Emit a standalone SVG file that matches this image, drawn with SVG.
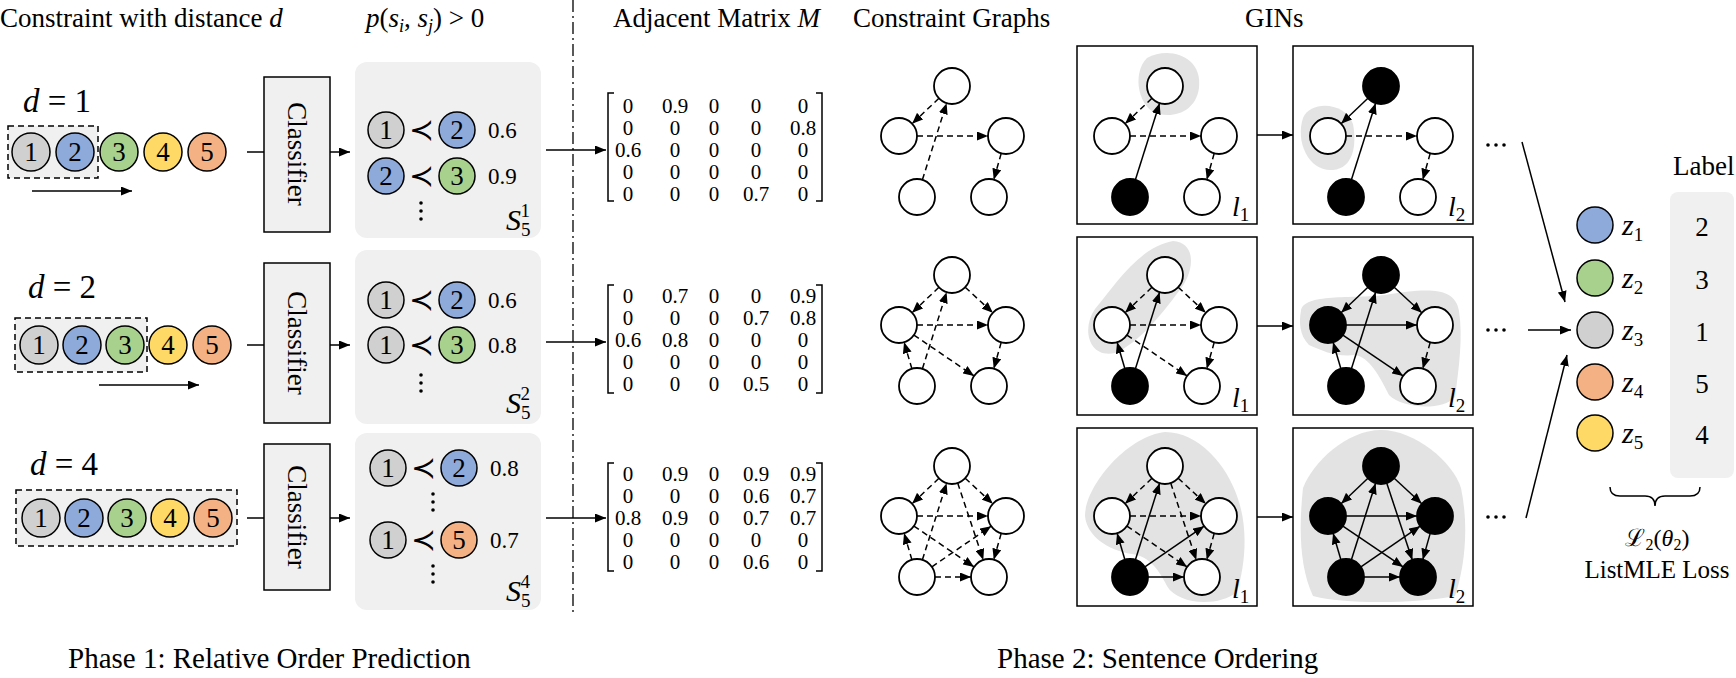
<svg xmlns="http://www.w3.org/2000/svg" width="1736" height="678" viewBox="0 0 1736 678">
<defs>
<marker id="ah" markerUnits="userSpaceOnUse" markerWidth="11" markerHeight="9" refX="11" refY="4.5" orient="auto"><path d="M0,0 L11,4.5 L0,9 z" fill="#000"/></marker>
<style>
text{font-family:"Liberation Serif","DejaVu Serif",serif;fill:#000}
.t{font-size:27px}
.it{font-style:italic}
.n{font-size:27px;text-anchor:middle}
.m{font-size:21px;text-anchor:middle}
.p{font-size:23px}
.sb{fill:#f0f0f0;stroke:none}
.dbox{fill:#f0f0f0;stroke:#000;stroke-width:1.5;stroke-dasharray:6 4}
.cls{fill:#f0f0f0;stroke:#000;stroke-width:1.5}
.c{stroke:#000;stroke-width:1.5}
.g1{fill:#d0d0d0}.g2{fill:#8eaadb}.g3{fill:#a9d18e}.g4{fill:#ffd966}.g5{fill:#f4b183}
.ln{stroke:#000;stroke-width:1.5;fill:none}
.ar{stroke:#000;stroke-width:1.5;fill:none;marker-end:url(#ah)}
.da{stroke:#000;stroke-width:1.5;fill:none;stroke-dasharray:6 4;marker-end:url(#ah)}
.w{fill:#fff;stroke:#000;stroke-width:1.8}
.b{fill:#000;stroke:#000;stroke-width:1.8}
.box{fill:#fff;stroke:#000;stroke-width:1.5}
.blob{fill:#e3e3e3}
.dot{fill:#000}
.pr{font-size:30px;text-anchor:middle;font-family:"DejaVu Serif",serif}
</style>
</defs>

<g id="headings">
<text class="t" x="0" y="27">Constraint with distance <tspan class="it">d</tspan></text>
<text class="t" x="366" y="27"><tspan class="it">p</tspan>(<tspan class="it">s</tspan><tspan class="it" font-size="18" dy="5">i</tspan><tspan dy="-5">, </tspan><tspan class="it">s</tspan><tspan class="it" font-size="18" dy="5">j</tspan><tspan dy="-5">) &gt; 0</tspan></text>
<text class="t" x="613" y="27">Adjacent Matrix <tspan class="it">M</tspan></text>
<text class="t" x="853" y="27">Constraint Graphs</text>
<text class="t" x="1245" y="27">GINs</text>
<text class="t" x="1673" y="175">Label</text>
<text x="68" y="668" font-size="29">Phase 1: Relative Order Prediction</text>
<text x="997" y="668" font-size="29">Phase 2: Sentence Ordering</text>
</g>

<line x1="573" y1="0" x2="573" y2="612" stroke="#000" stroke-width="1.3" stroke-dasharray="12 4 2 4"/>

<g id="input1">
<text x="23" y="112" font-size="33"><tspan class="it">d</tspan> = 1</text>
<rect class="dbox" x="8" y="126" width="90" height="52"/>
<circle class="c g1" cx="31" cy="152" r="19"/><text class="n" x="31" y="161">1</text>
<circle class="c g2" cx="75" cy="152" r="19"/><text class="n" x="75" y="161">2</text>
<circle class="c g3" cx="119" cy="152" r="19"/><text class="n" x="119" y="161">3</text>
<circle class="c g4" cx="163" cy="152" r="19"/><text class="n" x="163" y="161">4</text>
<circle class="c g5" cx="207" cy="152" r="19"/><text class="n" x="207" y="161">5</text>
</g>
<g id="input2">
<text x="28" y="298" font-size="33"><tspan class="it">d</tspan> = 2</text>
<rect class="dbox" x="15" y="318" width="132" height="54"/>
<circle class="c g1" cx="39" cy="345" r="19"/><text class="n" x="39" y="354">1</text>
<circle class="c g2" cx="82" cy="345" r="19"/><text class="n" x="82" y="354">2</text>
<circle class="c g3" cx="125" cy="345" r="19"/><text class="n" x="125" y="354">3</text>
<circle class="c g4" cx="168" cy="345" r="19"/><text class="n" x="168" y="354">4</text>
<circle class="c g5" cx="212" cy="345" r="19"/><text class="n" x="212" y="354">5</text>
</g>
<g id="input3">
<text x="30" y="475" font-size="33"><tspan class="it">d</tspan> = 4</text>
<rect class="dbox" x="16" y="490" width="221" height="56"/>
<circle class="c g1" cx="41" cy="518" r="19"/><text class="n" x="41" y="527">1</text>
<circle class="c g2" cx="84" cy="518" r="19"/><text class="n" x="84" y="527">2</text>
<circle class="c g3" cx="127" cy="518" r="19"/><text class="n" x="127" y="527">3</text>
<circle class="c g4" cx="170" cy="518" r="19"/><text class="n" x="170" y="527">4</text>
<circle class="c g5" cx="213" cy="518" r="19"/><text class="n" x="213" y="527">5</text>
</g>

<g id="classifier1"><rect class="cls" x="264" y="77" width="66" height="155"/><text font-size="27" text-anchor="middle" transform="translate(297,154) rotate(90)" y="9">Classifier</text></g>
<g id="classifier2"><rect class="cls" x="264" y="263" width="66" height="160"/><text font-size="27" text-anchor="middle" transform="translate(297,343) rotate(90)" y="9">Classifier</text></g>
<g id="classifier3"><rect class="cls" x="264" y="444" width="66" height="146"/><text font-size="27" text-anchor="middle" transform="translate(297,517) rotate(90)" y="9">Classifier</text></g>

<g id="scores1">
<rect class="sb" x="355" y="62" width="186" height="176" rx="12"/>
<circle class="c g1" cx="386" cy="130" r="18"/><text class="n" x="386" y="139">1</text>
<text class="pr" x="421" y="140">≺</text>
<circle class="c g2" cx="457" cy="130" r="18"/><text class="n" x="457" y="139">2</text>
<text class="p" x="488" y="138">0.6</text>
<circle class="c g2" cx="386" cy="176" r="18"/><text class="n" x="386" y="185">2</text>
<text class="pr" x="421" y="186">≺</text>
<circle class="c g3" cx="457" cy="176" r="18"/><text class="n" x="457" y="185">3</text>
<text class="p" x="488" y="184">0.9</text>
<circle class="dot" cx="421" cy="203" r="1.8"/><circle class="dot" cx="421" cy="211" r="1.8"/><circle class="dot" cx="421" cy="219" r="1.8"/>
<text x="506" y="230" font-size="30" class="it">S<tspan font-size="19" font-style="normal" dy="6">5</tspan><tspan font-size="19" font-style="normal" dx="-10" dy="-19">1</tspan></text>
</g>
<g id="scores2">
<rect class="sb" x="355" y="250" width="186" height="174" rx="12"/>
<circle class="c g1" cx="386" cy="300" r="18"/><text class="n" x="386" y="309">1</text>
<text class="pr" x="421" y="310">≺</text>
<circle class="c g2" cx="457" cy="300" r="18"/><text class="n" x="457" y="309">2</text>
<text class="p" x="488" y="308">0.6</text>
<circle class="c g1" cx="386" cy="345" r="18"/><text class="n" x="386" y="354">1</text>
<text class="pr" x="421" y="355">≺</text>
<circle class="c g3" cx="457" cy="345" r="18"/><text class="n" x="457" y="354">3</text>
<text class="p" x="488" y="353">0.8</text>
<circle class="dot" cx="421" cy="375" r="1.8"/><circle class="dot" cx="421" cy="383" r="1.8"/><circle class="dot" cx="421" cy="391" r="1.8"/>
<text x="506" y="413" font-size="30" class="it">S<tspan font-size="19" font-style="normal" dy="6">5</tspan><tspan font-size="19" font-style="normal" dx="-10" dy="-19">2</tspan></text>
</g>
<g id="scores3">
<rect class="sb" x="355" y="433" width="186" height="177" rx="12"/>
<circle class="c g1" cx="388" cy="468" r="18"/><text class="n" x="388" y="477">1</text>
<text class="pr" x="423" y="478">≺</text>
<circle class="c g2" cx="459" cy="468" r="18"/><text class="n" x="459" y="477">2</text>
<text class="p" x="490" y="476">0.8</text>
<circle class="dot" cx="433" cy="494" r="1.8"/><circle class="dot" cx="433" cy="502" r="1.8"/><circle class="dot" cx="433" cy="510" r="1.8"/>
<circle class="c g1" cx="388" cy="540" r="18"/><text class="n" x="388" y="549">1</text>
<text class="pr" x="423" y="550">≺</text>
<circle class="c g5" cx="459" cy="540" r="18"/><text class="n" x="459" y="549">5</text>
<text class="p" x="490" y="548">0.7</text>
<circle class="dot" cx="433" cy="566" r="1.8"/><circle class="dot" cx="433" cy="574" r="1.8"/><circle class="dot" cx="433" cy="582" r="1.8"/>
<text x="506" y="601" font-size="30" class="it">S<tspan font-size="19" font-style="normal" dy="6">5</tspan><tspan font-size="19" font-style="normal" dx="-10" dy="-19">4</tspan></text>
</g>

<g id="matrix1">
<path class="ln" d="M614,93 L608,93 L608,201 L614,201 M816,93 L822,93 L822,201 L816,201"/>
<text class="m" x="628" y="113">0</text><text class="m" x="675" y="113">0.9</text><text class="m" x="714" y="113">0</text><text class="m" x="756" y="113">0</text><text class="m" x="803" y="113">0</text>
<text class="m" x="628" y="135">0</text><text class="m" x="675" y="135">0</text><text class="m" x="714" y="135">0</text><text class="m" x="756" y="135">0</text><text class="m" x="803" y="135">0.8</text>
<text class="m" x="628" y="157">0.6</text><text class="m" x="675" y="157">0</text><text class="m" x="714" y="157">0</text><text class="m" x="756" y="157">0</text><text class="m" x="803" y="157">0</text>
<text class="m" x="628" y="179">0</text><text class="m" x="675" y="179">0</text><text class="m" x="714" y="179">0</text><text class="m" x="756" y="179">0</text><text class="m" x="803" y="179">0</text>
<text class="m" x="628" y="201">0</text><text class="m" x="675" y="201">0</text><text class="m" x="714" y="201">0</text><text class="m" x="756" y="201">0.7</text><text class="m" x="803" y="201">0</text>
</g>
<g id="matrix2">
<path class="ln" d="M614,285 L608,285 L608,393 L614,393 M816,285 L822,285 L822,393 L816,393"/>
<text class="m" x="628" y="303">0</text><text class="m" x="675" y="303">0.7</text><text class="m" x="714" y="303">0</text><text class="m" x="756" y="303">0</text><text class="m" x="803" y="303">0.9</text>
<text class="m" x="628" y="325">0</text><text class="m" x="675" y="325">0</text><text class="m" x="714" y="325">0</text><text class="m" x="756" y="325">0.7</text><text class="m" x="803" y="325">0.8</text>
<text class="m" x="628" y="347">0.6</text><text class="m" x="675" y="347">0.8</text><text class="m" x="714" y="347">0</text><text class="m" x="756" y="347">0</text><text class="m" x="803" y="347">0</text>
<text class="m" x="628" y="369">0</text><text class="m" x="675" y="369">0</text><text class="m" x="714" y="369">0</text><text class="m" x="756" y="369">0</text><text class="m" x="803" y="369">0</text>
<text class="m" x="628" y="391">0</text><text class="m" x="675" y="391">0</text><text class="m" x="714" y="391">0</text><text class="m" x="756" y="391">0.5</text><text class="m" x="803" y="391">0</text>
</g>
<g id="matrix3">
<path class="ln" d="M614,463 L608,463 L608,571 L614,571 M816,463 L822,463 L822,571 L816,571"/>
<text class="m" x="628" y="481">0</text><text class="m" x="675" y="481">0.9</text><text class="m" x="714" y="481">0</text><text class="m" x="756" y="481">0.9</text><text class="m" x="803" y="481">0.9</text>
<text class="m" x="628" y="503">0</text><text class="m" x="675" y="503">0</text><text class="m" x="714" y="503">0</text><text class="m" x="756" y="503">0.6</text><text class="m" x="803" y="503">0.7</text>
<text class="m" x="628" y="525">0.8</text><text class="m" x="675" y="525">0.9</text><text class="m" x="714" y="525">0</text><text class="m" x="756" y="525">0.7</text><text class="m" x="803" y="525">0.7</text>
<text class="m" x="628" y="547">0</text><text class="m" x="675" y="547">0</text><text class="m" x="714" y="547">0</text><text class="m" x="756" y="547">0</text><text class="m" x="803" y="547">0</text>
<text class="m" x="628" y="569">0</text><text class="m" x="675" y="569">0</text><text class="m" x="714" y="569">0</text><text class="m" x="756" y="569">0.6</text><text class="m" x="803" y="569">0</text>
</g>

<g id="cgraph1" transform="translate(864,46)">
<path class="da" d="M74.9,52.3 L48.1,77.7"/><path class="da" d="M58.4,133.8 L82.6,57.2"/><path class="da" d="M53,90 L124,90"/><path class="da" d="M137.2,107.4 L129.8,133.6"/>
<circle class="w" cx="88" cy="40" r="18"/><circle class="w" cx="35" cy="90" r="18"/><circle class="w" cx="142" cy="90" r="18"/><circle class="w" cx="53" cy="151" r="18"/><circle class="w" cx="125" cy="151" r="18"/>
</g>
<g id="cgraph2" transform="translate(864,235)">
<path class="da" d="M74.9,52.3 L48.1,77.7"/><path class="da" d="M101.2,52.2 L128.8,77.8"/><path class="da" d="M53,90 L124,90"/><path class="da" d="M49.9,100.1 L110.1,140.9"/><path class="da" d="M47.9,133.7 L40.1,107.3"/><path class="da" d="M58.4,133.8 L82.6,57.2"/><path class="da" d="M137.2,107.4 L129.8,133.6"/>
<circle class="w" cx="88" cy="40" r="18"/><circle class="w" cx="35" cy="90" r="18"/><circle class="w" cx="142" cy="90" r="18"/><circle class="w" cx="53" cy="151" r="18"/><circle class="w" cx="125" cy="151" r="18"/>
</g>
<g id="cgraph3" transform="translate(864,426)">
<path class="da" d="M74.9,52.3 L48.1,77.7"/><path class="da" d="M101.2,52.2 L128.8,77.8"/><path class="da" d="M93.7,57.1 L119.3,133.9"/><path class="da" d="M53,90 L124,90"/><path class="da" d="M49.9,100.1 L110.1,140.9"/><path class="da" d="M47.9,133.7 L40.1,107.3"/><path class="da" d="M58.4,133.8 L82.6,57.2"/><path class="da" d="M67.9,140.8 L127.1,100.2"/><path class="da" d="M71,151 L107,151"/><path class="da" d="M137.2,107.4 L129.8,133.6"/>
<circle class="w" cx="88" cy="40" r="18"/><circle class="w" cx="35" cy="90" r="18"/><circle class="w" cx="142" cy="90" r="18"/><circle class="w" cx="53" cy="151" r="18"/><circle class="w" cx="125" cy="151" r="18"/>
</g>

<g id="gin1_1">
<rect class="box" x="1077" y="46" width="180" height="178"/>
<g transform="translate(1077,46)">
<path class="blob" d="M70,12 C92,0 126,10 122,42 C119,64 100,72 82,68 C62,64 54,28 70,12 Z"/>
<path class="da" d="M74.9,52.3 L48.1,77.7"/><path class="ar" d="M58.4,133.8 L82.6,57.2"/><path class="da" d="M53,90 L124,90"/><path class="da" d="M137.2,107.4 L129.8,133.6"/>
<circle class="w" cx="88" cy="40" r="18"/><circle class="w" cx="35" cy="90" r="18"/><circle class="w" cx="142" cy="90" r="18"/><circle class="b" cx="53" cy="151" r="18"/><circle class="w" cx="125" cy="151" r="18"/>
<text x="155" y="170" font-size="28" class="it">l<tspan font-size="19" font-style="normal" dy="5">1</tspan></text>
</g></g>
<g id="gin2_1">
<rect class="box" x="1077" y="237" width="180" height="178"/>
<g transform="translate(1077,235)">
<path class="blob" d="M96,6 C122,8 116,40 102,56 C84,80 62,108 38,118 C12,124 4,94 18,74 C38,50 62,12 96,6 Z"/>
<path class="da" d="M74.9,52.3 L48.1,77.7"/><path class="da" d="M101.2,52.2 L128.8,77.8"/><path class="da" d="M53,90 L124,90"/><path class="da" d="M49.9,100.1 L110.1,140.9"/><path class="ar" d="M47.9,133.7 L40.1,107.3"/><path class="ar" d="M58.4,133.8 L82.6,57.2"/><path class="da" d="M137.2,107.4 L129.8,133.6"/>
<circle class="w" cx="88" cy="40" r="18"/><circle class="w" cx="35" cy="90" r="18"/><circle class="w" cx="142" cy="90" r="18"/><circle class="b" cx="53" cy="151" r="18"/><circle class="w" cx="125" cy="151" r="18"/>
<text x="155" y="172" font-size="28" class="it">l<tspan font-size="19" font-style="normal" dy="5">1</tspan></text>
</g></g>
<g id="gin3_1">
<rect class="box" x="1077" y="428" width="180" height="178"/>
<g transform="translate(1077,426)">
<path class="blob" d="M88,6 C122,6 150,40 160,70 C172,102 168,140 160,166 C140,182 100,178 90,160 C80,140 70,130 55,128 C30,124 10,110 8,90 C8,60 50,10 88,6 Z"/>
<path class="da" d="M74.9,52.3 L48.1,77.7"/><path class="da" d="M101.2,52.2 L128.8,77.8"/><path class="da" d="M93.7,57.1 L119.3,133.9"/><path class="da" d="M53,90 L124,90"/><path class="da" d="M49.9,100.1 L110.1,140.9"/><path class="ar" d="M47.9,133.7 L40.1,107.3"/><path class="ar" d="M58.4,133.8 L82.6,57.2"/><path class="ar" d="M67.9,140.8 L127.1,100.2"/><path class="ar" d="M71,151 L107,151"/><path class="da" d="M137.2,107.4 L129.8,133.6"/>
<circle class="w" cx="88" cy="40" r="18"/><circle class="w" cx="35" cy="90" r="18"/><circle class="w" cx="142" cy="90" r="18"/><circle class="b" cx="53" cy="151" r="18"/><circle class="w" cx="125" cy="151" r="18"/>
<text x="155" y="172" font-size="28" class="it">l<tspan font-size="19" font-style="normal" dy="5">1</tspan></text>
</g></g>

<g id="gin1_2">
<rect class="box" x="1293" y="46" width="180" height="178"/>
<g transform="translate(1293,46)">
<path class="blob" d="M10,72 C18,54 52,56 60,78 C64,100 60,122 40,124 C16,126 2,96 10,72 Z"/>
<path class="ar" d="M74.9,52.3 L48.1,77.7"/><path class="ar" d="M58.4,133.8 L82.6,57.2"/><path class="da" d="M53,90 L124,90"/><path class="da" d="M137.2,107.4 L129.8,133.6"/>
<circle class="b" cx="88" cy="40" r="18"/><circle class="w" cx="35" cy="90" r="18"/><circle class="w" cx="142" cy="90" r="18"/><circle class="b" cx="53" cy="151" r="18"/><circle class="w" cx="125" cy="151" r="18"/>
<text x="155" y="170" font-size="28" class="it">l<tspan font-size="19" font-style="normal" dy="5">2</tspan></text>
</g></g>
<g id="gin2_2">
<rect class="box" x="1293" y="237" width="180" height="178"/>
<g transform="translate(1293,235)">
<path class="blob" d="M8,76 C10,58 60,64 92,60 C130,54 162,50 166,76 C170,102 166,132 162,162 C150,176 110,174 96,160 C86,140 76,122 62,120 C42,122 30,116 16,110 C6,100 6,86 8,76 Z"/>
<path class="ar" d="M74.9,52.3 L48.1,77.7"/><path class="ar" d="M101.2,52.2 L128.8,77.8"/><path class="ar" d="M53,90 L124,90"/><path class="ar" d="M49.9,100.1 L110.1,140.9"/><path class="ar" d="M47.9,133.7 L40.1,107.3"/><path class="ar" d="M58.4,133.8 L82.6,57.2"/><path class="da" d="M137.2,107.4 L129.8,133.6"/>
<circle class="b" cx="88" cy="40" r="18"/><circle class="b" cx="35" cy="90" r="18"/><circle class="w" cx="142" cy="90" r="18"/><circle class="b" cx="53" cy="151" r="18"/><circle class="w" cx="125" cy="151" r="18"/>
<text x="155" y="172" font-size="28" class="it">l<tspan font-size="19" font-style="normal" dy="5">2</tspan></text>
</g></g>
<g id="gin3_2">
<rect class="box" x="1293" y="428" width="180" height="178"/>
<g transform="translate(1293,426)">
<path class="blob" d="M88,4 C122,4 160,36 168,62 C176,100 172,140 162,170 C120,178 50,178 20,170 C6,140 6,100 10,62 C20,36 54,4 88,4 Z"/>
<path class="ar" d="M74.9,52.3 L48.1,77.7"/><path class="ar" d="M101.2,52.2 L128.8,77.8"/><path class="ar" d="M93.7,57.1 L119.3,133.9"/><path class="ar" d="M53,90 L124,90"/><path class="ar" d="M49.9,100.1 L110.1,140.9"/><path class="ar" d="M47.9,133.7 L40.1,107.3"/><path class="ar" d="M58.4,133.8 L82.6,57.2"/><path class="ar" d="M67.9,140.8 L127.1,100.2"/><path class="ar" d="M71,151 L107,151"/><path class="ar" d="M137.2,107.4 L129.8,133.6"/>
<circle class="b" cx="88" cy="40" r="18"/><circle class="b" cx="35" cy="90" r="18"/><circle class="b" cx="142" cy="90" r="18"/><circle class="b" cx="53" cy="151" r="18"/><circle class="b" cx="125" cy="151" r="18"/>
<text x="155" y="172" font-size="28" class="it">l<tspan font-size="19" font-style="normal" dy="5">2</tspan></text>
</g></g>

<g id="outputs">
<rect class="sb" x="1670" y="192" width="64" height="286" rx="8"/>
<circle class="c g2" cx="1595" cy="225" r="18"/><text x="1622" y="235" font-size="30" class="it">z<tspan font-size="19" font-style="normal" dy="6">1</tspan></text><text class="n" x="1702" y="236" font-size="30">2</text>
<circle class="c g3" cx="1595" cy="278" r="18"/><text x="1622" y="288" font-size="30" class="it">z<tspan font-size="19" font-style="normal" dy="6">2</tspan></text><text class="n" x="1702" y="289" font-size="30">3</text>
<circle class="c g1" cx="1595" cy="330" r="18"/><text x="1622" y="340" font-size="30" class="it">z<tspan font-size="19" font-style="normal" dy="6">3</tspan></text><text class="n" x="1702" y="341" font-size="30">1</text>
<circle class="c g5" cx="1595" cy="382" r="18"/><text x="1622" y="392" font-size="30" class="it">z<tspan font-size="19" font-style="normal" dy="6">4</tspan></text><text class="n" x="1702" y="393" font-size="30">5</text>
<circle class="c g4" cx="1595" cy="433" r="18"/><text x="1622" y="443" font-size="30" class="it">z<tspan font-size="19" font-style="normal" dy="6">5</tspan></text><text class="n" x="1702" y="444" font-size="30">4</text>
<path class="ln" d="M1610,487 Q1610,496 1620,496 L1645,496 Q1655,496 1655,506 Q1655,496 1665,496 L1690,496 Q1700,496 1700,487"/>
<text x="1657" y="546" font-size="24" text-anchor="middle">ℒ<tspan font-size="16" dx="1" dy="4">2</tspan><tspan dy="-4">(</tspan><tspan class="it">θ</tspan><tspan font-size="16" dy="4">2</tspan><tspan dy="-4">)</tspan></text>
<text x="1657" y="578" font-size="25" text-anchor="middle">ListMLE Loss</text>
<g class="dot">
<circle cx="1488" cy="145" r="1.8"/><circle cx="1496" cy="145" r="1.8"/><circle cx="1504" cy="145" r="1.8"/>
<circle cx="1488" cy="330" r="1.8"/><circle cx="1496" cy="330" r="1.8"/><circle cx="1504" cy="330" r="1.8"/>
<circle cx="1488" cy="517" r="1.8"/><circle cx="1496" cy="517" r="1.8"/><circle cx="1504" cy="517" r="1.8"/>
</g>
</g>

<g id="connectors">
<path class="ar" d="M32,191 L132,191"/>
<path class="ar" d="M99,385 L199,385"/>
<path class="ln" d="M247,152 L264,152"/><path class="ar" d="M330,152 L350,152"/>
<path class="ln" d="M247,345 L264,345"/><path class="ar" d="M330,345 L350,345"/>
<path class="ln" d="M247,518 L264,518"/><path class="ar" d="M330,518 L350,518"/>
<path class="ar" d="M546,150 L606,150"/>
<path class="ar" d="M546,342 L606,342"/>
<path class="ar" d="M546,518 L606,518"/>
<path class="ar" d="M1257,135 L1293,135"/>
<path class="ar" d="M1257,326 L1293,326"/>
<path class="ar" d="M1257,517 L1293,517"/>
<path class="ar" d="M1522,142 L1565,302"/>
<path class="ar" d="M1528,330 L1571,330"/>
<path class="ar" d="M1526,518 L1567,355"/>
</g>
</svg>
